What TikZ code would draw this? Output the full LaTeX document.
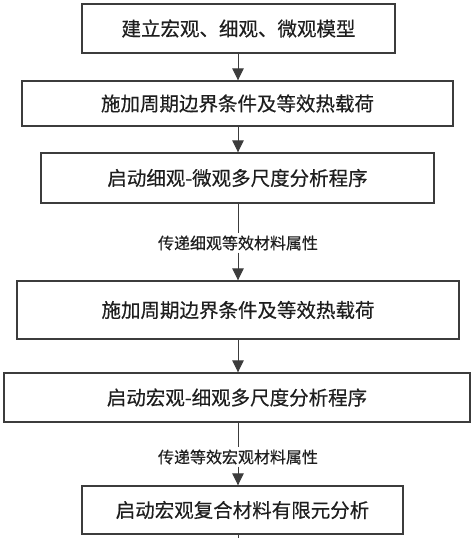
\documentclass[tikz,border=0pt]{standalone}
\usepackage{fontspec}
\setmainfont{Noto Sans CJK SC}[FakeBold=0.4]
\usetikzlibrary{arrows.meta}
\definecolor{boxline}{HTML}{3C3C3C}
\definecolor{txt}{HTML}{1E1E1E}
\begin{document}
\begin{tikzpicture}[x=1pt,y=-1pt,
  box/.style={draw=boxline, line width=1.4pt, inner sep=0pt, text=txt,
    font=\fontsize{19.5}{21}\selectfont},
  lbl/.style={fill=white, inner sep=2pt, text=txt, font=\fontsize{16}{18}\selectfont},
  arr/.style={-{Triangle[length=12pt,width=11.5pt]}, line width=0.9pt, draw=boxline},
  ln/.style={line width=0.9pt, draw=boxline}]
\useasboundingbox (0,0) rectangle (474,538);
\node[box, minimum width=313pt, minimum height=49pt] (b1) at (238.5,28.5) {建立宏观、细观、微观模型};
\node[box, minimum width=431pt, minimum height=45pt] (b2) at (237.5,103.5) {施加周期边界条件及等效热载荷};
\node[box, minimum width=393pt, minimum height=50pt] (b3) at (237.5,178) {启动细观-微观多尺度分析程序};
\node[lbl] (l1) at (238,243) {传递细观等效材料属性};
\node[box, minimum width=442pt, minimum height=58pt] (b4) at (238,310) {施加周期边界条件及等效热载荷};
\node[box, minimum width=466pt, minimum height=49pt] (b5) at (237,397.5) {启动宏观-细观多尺度分析程序};
\node[lbl] (l2) at (238,457) {传递等效宏观材料属性};
\node[box, minimum width=321pt, minimum height=48pt] (b6) at (242.5,510) {启动宏观复合材料有限元分析};
\coordinate (end) at (238,540);
\draw[arr] (b1.south -| 238,0) -- (b2.north -| 238,0);
\draw[arr] (b2.south -| 238,0) -- (b3.north -| 238,0);
\draw[ln] (b3.south -| 238,0) -- (l1.north);
\draw[arr] (l1.south) -- (b4.north -| 238,0);
\draw[arr] (b4.south -| 238,0) -- (b5.north -| 238,0);
\draw[ln] (b5.south -| 238,0) -- (l2.north);
\draw[arr] (l2.south) -- (b6.north -| 238,0);
\draw[ln] (b6.south -| 238,0) -- (end);
\end{tikzpicture}
\end{document}
